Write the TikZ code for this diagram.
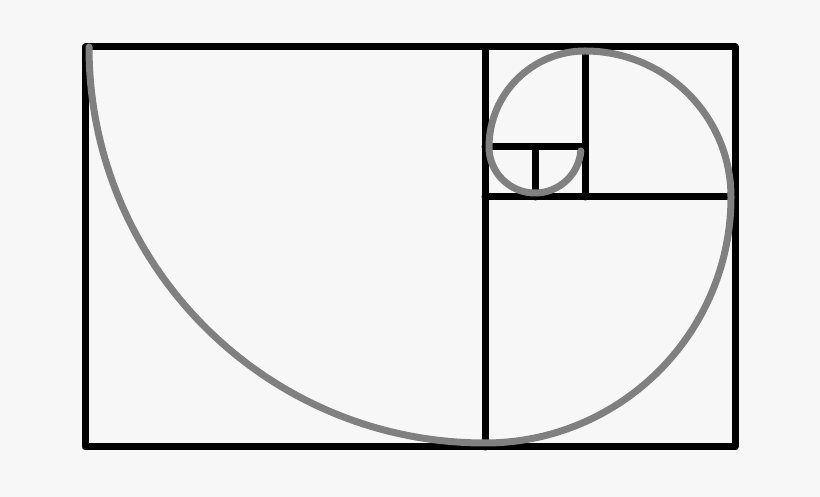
\documentclass[tikz,border=0pt]{standalone}
\definecolor{paper}{RGB}{247,247,247}
\definecolor{spiralgray}{RGB}{128,128,128}
\begin{document}
\begin{tikzpicture}[x=1pt,y=1pt,
    frame/.style={line width=7pt,line join=round,line cap=round},
    spiral/.style={draw=spiralgray,line width=7pt,line cap=round}]
      \fill[paper] (0,0) rectangle (820,497);
      \useasboundingbox (0,0) rectangle (820,497);
      \path
        (85,50) coordinate (bl)
        (735,450) coordinate (tr)
        (485,450) coordinate (m1t)
        (485,50) coordinate (m1b)
        (485,300) coordinate (h1l)
        (735,300) coordinate (h1r)
        (585,450) coordinate (m2t)
        (585,300) coordinate (m2b)
        (485,350) coordinate (h2l)
        (585,350) coordinate (h2r)
        (535,350) coordinate (m3t)
        (535,300) coordinate (m3b)
        (89,450) coordinate (s0);
      \begin{scope}[frame]
        \draw (bl) rectangle (tr);
        \draw (m1t) to (m1b);
        \draw (h1l) to (h1r);
        \draw (m2t) to (m2b);
        \draw (h2l) to (h2r);
        \draw (m3t) to (m3b);
      \end{scope}
      \draw[spiral] (s0)
        arc[start angle=180,end angle=270,radius=396]
        arc[start angle=270,end angle=360,radius=246]
        arc[start angle=0,end angle=90,radius=146]
        arc[start angle=90,end angle=180,radius=96]
        arc[start angle=180,end angle=355,radius=46];
    \end{tikzpicture}
\end{document}
